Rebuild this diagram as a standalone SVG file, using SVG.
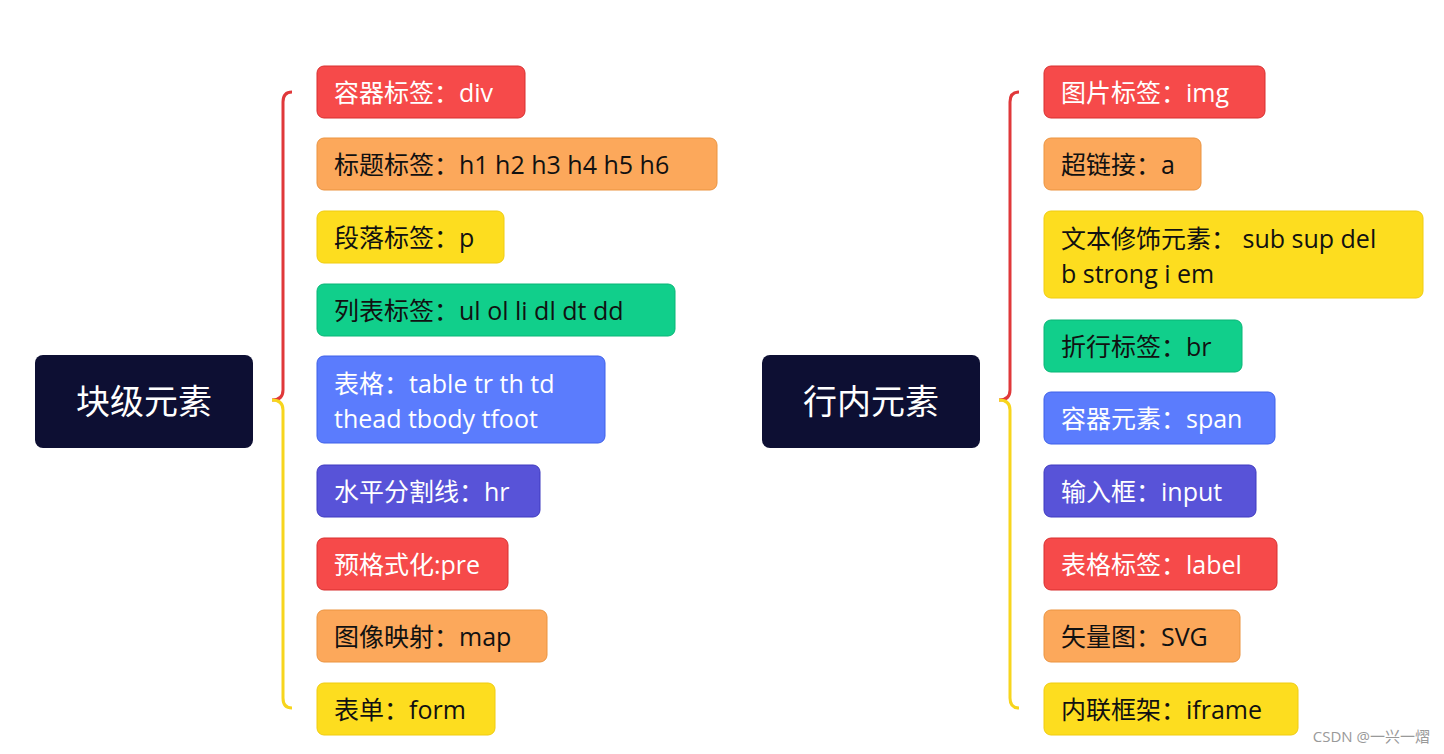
<svg xmlns="http://www.w3.org/2000/svg" width="1444" height="754" viewBox="0 0 1444 754">
<style>
text{font-family:"Open Sans","Noto Sans CJK SC",sans-serif;font-size:25px;dominant-baseline:central}
.w{fill:#fff}.k{fill:#111}
.r{fill:#f64a4a;stroke:#d82f2f}.o{fill:#fca85b;stroke:#eb9440}.y{fill:#fddd1f;stroke:#f0cc10}.g{fill:#11cf8b;stroke:#08b676}.b{fill:#5b7cfd;stroke:#3f60e8}.p{fill:#5853d8;stroke:#3f3ac0}
.c{fill:#0d0f33}
.br{fill:none;stroke-width:3}
</style>
<rect width="1444" height="754" fill="#fff"/>
<g id="connectors">
<path class="br" stroke="#e0383a" d="M292 92 Q283 92 283 102 V390 Q283 400 272 400"/>
<path class="br" stroke="#f7d51d" d="M272 400 Q283 400 283 410 V698 Q283 708 292 708"/>
<path class="br" stroke="#e0383a" d="M1019 92 Q1010 92 1010 102 V390 Q1010 400 999 400"/>
<path class="br" stroke="#f7d51d" d="M999 400 Q1010 400 1010 410 V698 Q1010 708 1019 708"/>
</g>
<g id="root1"><rect class="c" x="35" y="355" width="218" height="93" rx="8"/><text class="w" x="144" y="401" font-size="34" text-anchor="middle" style="font-size:34px">块级元素</text></g>
<g id="root2"><rect class="c" x="762" y="355" width="218" height="93" rx="8"/><text class="w" x="871" y="401" text-anchor="middle" style="font-size:34px">行内元素</text></g>
<g id="l1"><rect class="r" x="317" y="66" width="208" height="52" rx="7"/><text class="w" x="334" y="92">容器标签：div</text></g>
<g id="l2"><rect class="o" x="317" y="138" width="400" height="52" rx="7"/><text class="k" x="334" y="164">标题标签：h1 h2 h3 h4 h5 h6</text></g>
<g id="l3"><rect class="y" x="317" y="211" width="187" height="52" rx="7"/><text class="k" x="334" y="237">段落标签：p</text></g>
<g id="l4"><rect class="g" x="317" y="284" width="358" height="52" rx="7"/><text class="k" x="334" y="310">列表标签：ul ol li dl dt dd</text></g>
<g id="l5"><rect class="b" x="317" y="356" width="288" height="87" rx="7"/><text class="w" x="334" y="383">表格：table tr th td</text><text class="w" x="334" y="418">thead tbody tfoot</text></g>
<g id="l6"><rect class="p" x="317" y="465" width="223" height="52" rx="7"/><text class="w" x="334" y="491">水平分割线：hr</text></g>
<g id="l7"><rect class="r" x="317" y="538" width="191" height="52" rx="7"/><text class="w" x="334" y="564">预格式化:pre</text></g>
<g id="l8"><rect class="o" x="317" y="610" width="230" height="52" rx="7"/><text class="k" x="334" y="636">图像映射：map</text></g>
<g id="l9"><rect class="y" x="317" y="683" width="178" height="52" rx="7"/><text class="k" x="334" y="709">表单：form</text></g>
<g id="r1"><rect class="r" x="1044" y="66" width="221" height="52" rx="7"/><text class="w" x="1061" y="92">图片标签：img</text></g>
<g id="r2"><rect class="o" x="1044" y="138" width="157" height="52" rx="7"/><text class="k" x="1061" y="164">超链接：a</text></g>
<g id="r3"><rect class="y" x="1044" y="211" width="379" height="87" rx="7"/><text class="k" x="1061" y="238">文本修饰元素：  sub sup del</text><text class="k" x="1061" y="273">b strong i em</text></g>
<g id="r4"><rect class="g" x="1044" y="320" width="198" height="52" rx="7"/><text class="k" x="1061" y="346">折行标签：br</text></g>
<g id="r5"><rect class="b" x="1044" y="392" width="231" height="52" rx="7"/><text class="w" x="1061" y="418">容器元素：span</text></g>
<g id="r6"><rect class="p" x="1044" y="465" width="212" height="52" rx="7"/><text class="w" x="1061" y="491">输入框：input</text></g>
<g id="r7"><rect class="r" x="1044" y="538" width="233" height="52" rx="7"/><text class="w" x="1061" y="564">表格标签：label</text></g>
<g id="r8"><rect class="o" x="1044" y="610" width="196" height="52" rx="7"/><text class="k" x="1061" y="636">矢量图：SVG</text></g>
<g id="r9"><rect class="y" x="1044" y="683" width="254" height="52" rx="7"/><text class="k" x="1061" y="709">内联框架：iframe</text></g>
<text x="1430" y="736" text-anchor="end" style="font-size:15px;fill:#999">CSDN @一兴一熠</text>
</svg>
